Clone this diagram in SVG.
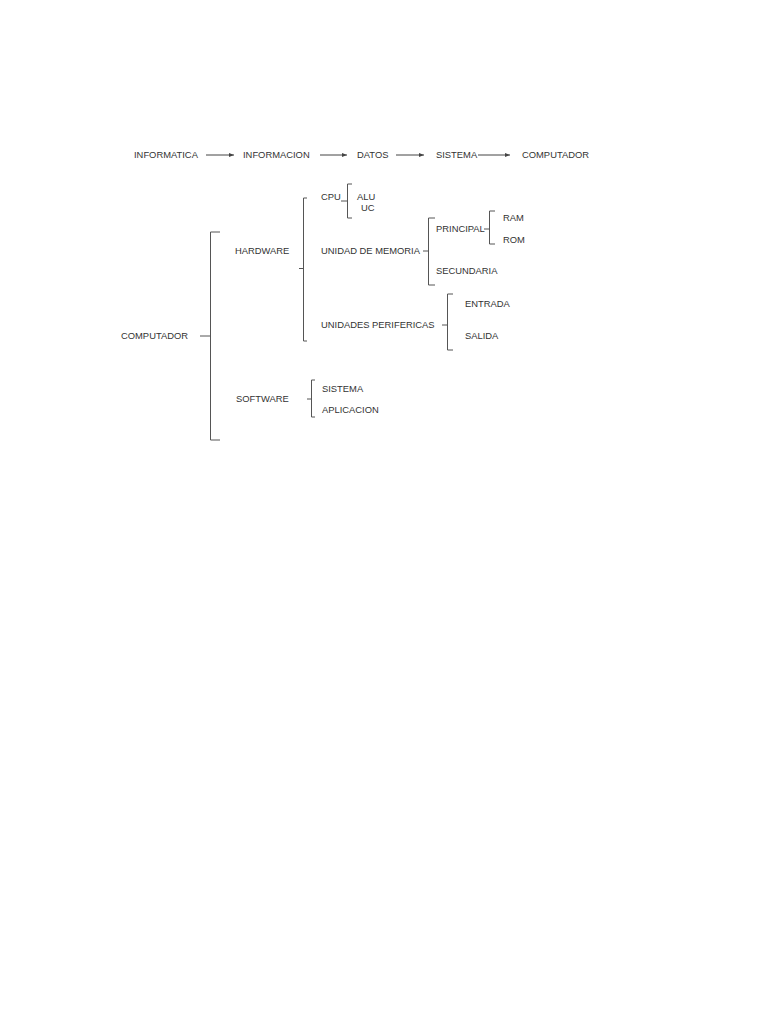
<svg xmlns="http://www.w3.org/2000/svg" width="768" height="1024" viewBox="0 0 768 1024">
<defs>
<style>
text{font-family:"Liberation Sans",Arial,sans-serif;font-size:9.4px;fill:#333}
.b{fill:none;stroke:#555;stroke-width:1}
.a{fill:none;stroke:#444;stroke-width:1}
</style>
<marker id="ah" markerWidth="6" markerHeight="6" refX="5" refY="3" orient="auto" markerUnits="userSpaceOnUse">
<path d="M0,1 L5,3 L0,5 Z" fill="#444"/>
</marker>
</defs>
<rect width="768" height="1024" fill="#fff"/>
<g id="connectors">
<path class="a" d="M206,155 H234" marker-end="url(#ah)"/>
<path class="a" d="M320,155 H347" marker-end="url(#ah)"/>
<path class="a" d="M396,155 H424" marker-end="url(#ah)"/>
<path class="a" d="M478,155 H510" marker-end="url(#ah)"/>
<path class="b" d="M220,232 H210.5 V440 H220 M200,336 H210.5"/>
<path class="b" d="M307,198 H303.5 V341 H307 M299,268.5 H303.5"/>
<path class="b" d="M315,380 H311.5 V417 H315 M307,399 H311.5"/>
<path class="b" d="M352,184 H347.5 V218 H352 M341,201 H347.5"/>
<path class="b" d="M435,218 H428.5 V285 H435 M423,251 H428.5"/>
<path class="b" d="M495,211 H489.5 V244 H495 M484,229 H489.5"/>
<path class="b" d="M453,294 H447.5 V350 H453 M442,325 H447.5"/>
</g>
<g id="n-informatica"><text x="134" y="158.4">INFORMATICA</text></g>
<g id="n-informacion"><text x="243" y="158.4">INFORMACION</text></g>
<g id="n-datos"><text x="357" y="158.4">DATOS</text></g>
<g id="n-sistema-top"><text x="436" y="158.4">SISTEMA</text></g>
<g id="n-computador-top"><text x="522" y="158.4">COMPUTADOR</text></g>
<g id="n-computador"><text x="121" y="339.4">COMPUTADOR</text></g>
<g id="n-hardware"><text x="235" y="254.4">HARDWARE</text></g>
<g id="n-software"><text x="236" y="402.4">SOFTWARE</text></g>
<g id="n-cpu"><text x="321" y="200.4">CPU</text></g>
<g id="n-alu"><text x="357" y="200.4">ALU</text></g>
<g id="n-uc"><text x="361" y="211.4">UC</text></g>
<g id="n-memoria"><text x="321" y="254.4">UNIDAD DE MEMORIA</text></g>
<g id="n-principal"><text x="436" y="232.4">PRINCIPAL</text></g>
<g id="n-ram"><text x="503" y="221.4">RAM</text></g>
<g id="n-rom"><text x="503" y="243.4">ROM</text></g>
<g id="n-secundaria"><text x="436" y="274.4">SECUNDARIA</text></g>
<g id="n-perifericas"><text x="321" y="328.4">UNIDADES PERIFERICAS</text></g>
<g id="n-entrada"><text x="465" y="307.4">ENTRADA</text></g>
<g id="n-salida"><text x="465" y="339.4">SALIDA</text></g>
<g id="n-sistema"><text x="322" y="392.4">SISTEMA</text></g>
<g id="n-aplicacion"><text x="322" y="413.4">APLICACION</text></g>
</svg>
